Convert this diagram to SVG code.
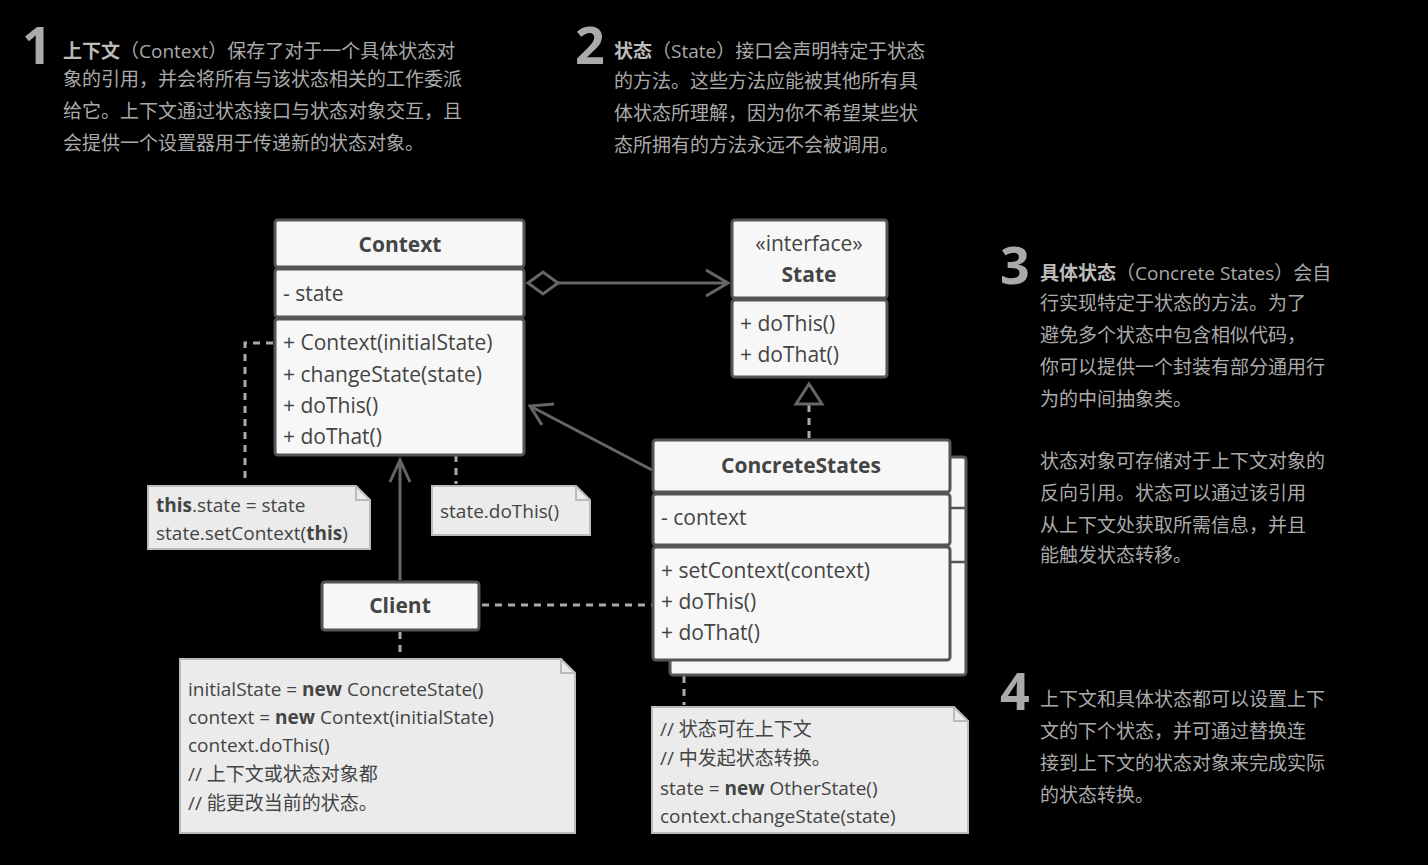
<svg xmlns="http://www.w3.org/2000/svg" width="1428" height="865" viewBox="0 0 1428 865">
<style>
text{font-family:"Open Sans","Noto Sans CJK SC",sans-serif;fill:#444}
.box{fill:#f7f7f7;stroke:#555;stroke-width:3}
.note{fill:#ebebeb;stroke:#bbb;stroke-width:2}
.m{font-size:21px}
.h{font-size:21px;font-weight:bold;text-anchor:middle}
.n{font-size:19px}
.d{font-size:18px;fill:#888}
.t{font-size:19px;fill:#bbb;font-weight:bold}
.tt{font-size:19px;fill:#aaa}
.num{font-size:52px;font-weight:bold;fill:#aaa}
.ln{stroke:#666;stroke-width:3;fill:none}
.dl{stroke:#aaa;stroke-width:3;fill:none;stroke-dasharray:7 6}
b{font-weight:bold}
</style>
<rect width="1428" height="865" fill="#000"/>
<g id="desc">
<text class="num" x="22" y="64">1</text>
<text class="tt" x="63" y="58"><tspan font-weight="bold" fill="#bbb">上下文</tspan>（Context）保存了对于一个具体状态对</text>
<text class="tt" x="63" y="86">象的引用，并会将所有与该状态相关的工作委派</text>
<text class="tt" x="63" y="118">给它。上下文通过状态接口与状态对象交互，且</text>
<text class="tt" x="63" y="150">会提供一个设置器用于传递新的状态对象。</text>
<text class="num" x="575" y="64">2</text>
<text class="tt" x="614" y="58"><tspan font-weight="bold" fill="#bbb">状态</tspan>（State）接口会声明特定于状态</text>
<text class="tt" x="614" y="88">的方法。这些方法应能被其他所有具</text>
<text class="tt" x="614" y="120">体状态所理解，因为你不希望某些状</text>
<text class="tt" x="614" y="152">态所拥有的方法永远不会被调用。</text>
<text class="num" x="1000" y="284">3</text>
<text class="tt" x="1040" y="280"><tspan font-weight="bold" fill="#bbb">具体状态</tspan>（Concrete States）会自</text>
<text class="tt" x="1040" y="310">行实现特定于状态的方法。为了</text>
<text class="tt" x="1040" y="342">避免多个状态中包含相似代码，</text>
<text class="tt" x="1040" y="374">你可以提供一个封装有部分通用行</text>
<text class="tt" x="1040" y="406">为的中间抽象类。</text>
<text class="tt" x="1040" y="468">状态对象可存储对于上下文对象的</text>
<text class="tt" x="1040" y="500">反向引用。状态可以通过该引用</text>
<text class="tt" x="1040" y="532">从上下文处获取所需信息，并且</text>
<text class="tt" x="1040" y="562">能触发状态转移。</text>
<text class="num" x="1000" y="710">4</text>
<text class="tt" x="1040" y="706">上下文和具体状态都可以设置上下</text>
<text class="tt" x="1040" y="738">文的下个状态，并可通过替换连</text>
<text class="tt" x="1040" y="770">接到上下文的状态对象来完成实际</text>
<text class="tt" x="1040" y="802">的状态转换。</text>
</g>
<g id="connectors">
<path class="ln" d="M558 283 H728 M706 270 L728 283 L706 296"/>
<path d="M528 283 L543 272 L558 283 L543 294 Z" fill="#000" stroke="#666" stroke-width="3"/>
<path class="ln" d="M652 470 L530 406 M554 404 L530 406 L542 425"/>
<path class="dl" d="M809 438 V404" stroke="#666"/>
<path d="M796 404 L809 384 L822 404 Z" fill="#000" stroke="#666" stroke-width="3"/>
<path class="ln" d="M400 580 V460 M390 482 L400 460 L410 482"/>
<path class="dl" d="M482 605 H670" stroke="#777"/>
<path class="ln" d="M654 595 L674 605 L654 615"/>
<path class="dl" d="M273 343 H245 V484"/>
<path class="dl" d="M416 404 H456 V484" stroke="#999"/>
<circle cx="408" cy="404" r="5" fill="none" stroke="#aaa" stroke-width="2.5"/>
<path class="dl" d="M400 632 V657"/>
<path class="dl" d="M684 663 V705"/>
</g>
<g id="context">
<rect class="box" x="275" y="220" width="249" height="47" rx="3"/>
<rect class="box" x="275" y="269" width="249" height="48" rx="3"/>
<rect class="box" x="275" y="319" width="249" height="136" rx="3"/>
<text class="h" x="400" y="252">Context</text>
<text class="m" x="283" y="301">- state</text>
<text class="m" x="283" y="350">+ Context(initialState)</text>
<text class="m" x="283" y="382">+ changeState(state)</text>
<text class="m" x="283" y="413">+ doThis()</text>
<text class="m" x="283" y="444">+ doThat()</text>
</g>
<g id="state">
<rect class="box" x="732" y="220" width="155" height="78" rx="3"/>
<rect class="box" x="732" y="300" width="155" height="77" rx="3"/>
<text class="m" x="809" y="251" text-anchor="middle">«interface»</text>
<text class="h" x="809" y="282">State</text>
<text class="m" x="740" y="331">+ doThis()</text>
<text class="m" x="740" y="362">+ doThat()</text>
</g>
<g id="concretestates">
<rect class="box" x="670" y="457" width="296" height="218" rx="3" stroke-width="2.5"/>
<path d="M670 508 H966 M670 562 H966" stroke="#555" stroke-width="2.5"/>
<rect class="box" x="653" y="440" width="297" height="52" rx="3"/>
<rect class="box" x="653" y="494" width="297" height="51" rx="3"/>
<rect class="box" x="653" y="547" width="297" height="113" rx="3"/>
<text class="h" x="801" y="473">ConcreteStates</text>
<text class="m" x="661" y="525">- context</text>
<text class="m" x="661" y="578">+ setContext(context)</text>
<text class="m" x="661" y="609">+ doThis()</text>
<text class="m" x="661" y="640">+ doThat()</text>
</g>
<g id="client">
<rect class="box" x="322" y="582" width="157" height="48" rx="3"/>
<text class="h" x="400" y="613">Client</text>
</g>
<g id="note-context">
<path class="note" d="M148 486 H356 L370 500 V549 H148 Z"/>
<path d="M356 486 V500 H370" fill="none" stroke="#bbb" stroke-width="2"/>
<text class="n" x="156" y="512"><tspan font-weight="bold">this</tspan>.state = state</text>
<text class="n" x="156" y="540">state.setContext(<tspan font-weight="bold">this</tspan>)</text>
</g>
<g id="note-dothis">
<path class="note" d="M432 486 H576 L590 500 V535 H432 Z"/>
<path d="M576 486 V500 H590" fill="none" stroke="#bbb" stroke-width="2"/>
<text class="n" x="440" y="518">state.doThis()</text>
</g>
<g id="note-client">
<path class="note" d="M180 659 H561 L575 673 V833 H180 Z"/>
<path d="M561 659 V673 H575" fill="none" stroke="#bbb" stroke-width="2"/>
<text class="n" x="188" y="696">initialState = <tspan font-weight="bold">new</tspan> ConcreteState()</text>
<text class="n" x="188" y="724">context = <tspan font-weight="bold">new</tspan> Context(initialState)</text>
<text class="n" x="188" y="752">context.doThis()</text>
<text class="n" x="188" y="781" fill="#888">// 上下文或状态对象都</text>
<text class="n" x="188" y="810" fill="#888">// 能更改当前的状态。</text>
</g>
<g id="note-state">
<path class="note" d="M652 707 H954 L968 721 V833 H652 Z"/>
<path d="M954 707 V721 H968" fill="none" stroke="#bbb" stroke-width="2"/>
<text class="n" x="660" y="736" fill="#888">// 状态可在上下文</text>
<text class="n" x="660" y="765" fill="#888">// 中发起状态转换。</text>
<text class="n" x="660" y="795">state = <tspan font-weight="bold">new</tspan> OtherState()</text>
<text class="n" x="660" y="823">context.changeState(state)</text>
</g>
</svg>
